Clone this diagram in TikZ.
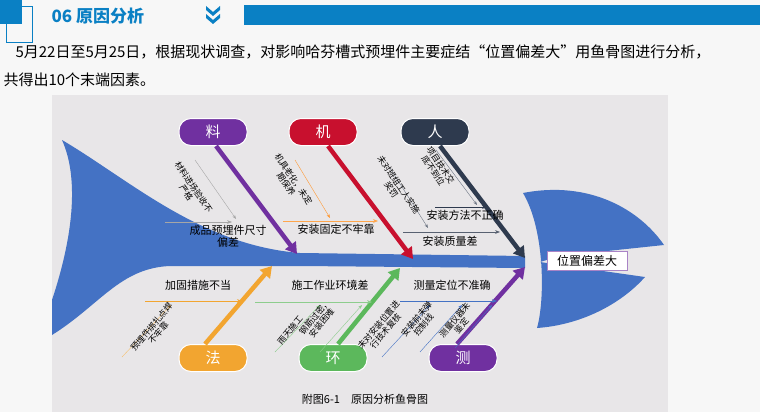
\documentclass[tikz,border=0pt]{standalone}
\usepackage{fontspec}
\setmainfont{Noto Sans CJK SC}
\usetikzlibrary{arrows.meta}
\definecolor{fishblue}{HTML}{4472C4}
\definecolor{panelgray}{HTML}{E8E6E8}
\definecolor{liaopurple}{HTML}{7030A0}
\definecolor{jired}{HTML}{C8102E}
\definecolor{rennavy}{HTML}{2E3A4E}
\definecolor{faorange}{HTML}{F2A530}
\definecolor{huangreen}{HTML}{5CB85C}
\definecolor{cepurple}{HTML}{7030A0}
\definecolor{headblue}{HTML}{0A80C4}
\tikzset{
  cat/.style={rounded corners=12pt,minimum width=68pt,minimum height=27pt,draw=white,line width=1pt,text=white,font=\fontsize{15}{15}\selectfont},
  main/.style={line width=4.5pt,-{Triangle[length=11pt,width=13pt]}},
  sub/.style={line width=0.6pt,-{Stealth[length=5pt]}},
  twig/.style={line width=0.4pt,-{Stealth[length=4pt]}},
  lab/.style={font=\fontsize{11}{12}\selectfont,align=center},
  tiny/.style={font=\fontsize{8.5}{9}\selectfont,align=center}
}
\begin{document}
\begin{tikzpicture}[x=1pt,y=-1pt]
\useasboundingbox (0,0) rectangle (760,412);
\fill[gray!6] (0,0) rectangle (760,412);
% header
\fill[headblue] (0,0) rectangle (22,24);
\draw[headblue,line width=0.8pt] (6,6) rectangle (32,42);
\node[anchor=west,text=headblue,font=\fontsize{17}{17}\selectfont\bfseries] (title) at (48,16) {06 原因分析};
\foreach \dy in {0,8}
  \fill[headblue] (206,6+\dy) -- (213,12+\dy) -- (220,6+\dy) -- (220,10+\dy) -- (213,16+\dy) -- (206,10+\dy) -- cycle;
\fill[headblue] (244,5) rectangle (760,25);
\node[anchor=west,font=\fontsize{15}{15}\selectfont] (par1) at (12,52) {5月22日至5月25日，根据现状调查，对影响哈芬槽式预埋件主要症结“位置偏差大”用鱼骨图进行分析，};
\node[anchor=west,font=\fontsize{15}{15}\selectfont] (par2) at (0,80) {共得出10个末端因素。};
% panel
\fill[panelgray] (52,95) rectangle (668,412);
% fish body
\fill[fishblue] (62,140) .. controls (130,180) and (200,245) .. (300,253) -- (525,256)
  -- (525,268) -- (300,266) -- (170,266) .. controls (120,268) and (100,305) .. (52,335)
  -- (52,300) .. controls (72,240) and (80,180) .. (62,140) -- cycle;
\fill[fishblue] (523,193) .. controls (590,180) and (640,210) .. (664,245)
  -- (560,256) -- (540,262) -- (645,277) .. controls (620,305) and (580,325) .. (537,328)
  .. controls (545,300) and (545,230) .. (523,193) -- cycle;
\node[draw=cepurple!60,fill=white,font=\fontsize{12}{12}\selectfont,minimum width=80pt,minimum height=19pt] (effect) at (587,261) {位置偏差大};
% categories
\node[cat,fill=liaopurple] (liao) at (213,132) {料};
\node[cat,fill=jired] (ji) at (323,132) {机};
\node[cat,fill=rennavy] (ren) at (435,132) {人};
\node[cat,fill=faorange] (fa) at (213,358) {法};
\node[cat,fill=huangreen] (huan) at (333,358) {环};
\node[cat,fill=cepurple] (ce) at (463,358) {测};
\coordinate (liaoE) at (297,254);
\coordinate (jiE) at (413,259);
\coordinate (renE) at (525,258);
\coordinate (faE) at (272,266);
\coordinate (huanE) at (400,268);
\coordinate (ceE) at (525,267);
\draw[main,liaopurple] (liao.south) ++(3,0) -- (liaoE);
\draw[main,jired] (ji.south) ++(5,0) -- (jiE);
\draw[main,rennavy] (ren.south) ++(5,0) -- (renE);
\draw[main,faorange] (fa.north) ++(-8,0) -- (faE);
\draw[main,huangreen] (huan.north) ++(5,0) -- (huanE);
\draw[main,cepurple] (ce.north) ++(-6,0) -- (ceE);
% liao
\draw[sub,gray!70] (165,222) -- (232,222);
\node[lab] (liao1) at (228,236) {成品预埋件尺寸\\偏差};
\draw[twig,gray!70] (195,160) -- (236,219);
\node[tiny,rotate=-56] (liao1a) at (190,190) {材料进场验收不\\严格};
% ji
\draw[sub,orange!70] (283,221) -- (378,221);
\node[lab] (ji1) at (336,229) {安装固定不牢靠};
\draw[twig,orange!80] (295,160) -- (330,218);
\node[tiny,rotate=-56] (ji1a) at (290,182) {机具老化，未定\\期保养};
% ren
\draw[sub,rennavy] (435,207) -- (487,207);
\node[lab] (ren1) at (465,215) {安装方法不正确};
\draw[sub,rennavy!80] (403,232) -- (500,232);
\node[lab] (ren2) at (450,241) {安装质量差};
\draw[twig,rennavy!70] (390,168) -- (428,228);
\node[tiny,rotate=-56] (ren2a) at (395,187) {未对班组工人实施\\奖罚};
\draw[twig,rennavy!70] (436,150) -- (477,205);
\node[tiny,rotate=-56] (ren1a) at (437,168) {项目技术交\\底不到位};
% fa
\draw[sub,faorange] (145,301) -- (242,301);
\node[lab] (fa1) at (198,285) {加固措施不当};
\draw[twig,faorange!70] (122,357) -- (171,305);
\node[tiny,rotate=50] (fa1a) at (155,330) {预埋件绑扎点焊\\不牢靠};
% huan
\draw[sub,huangreen!70] (255,302) -- (372,302);
\node[lab] (huan1) at (330,285) {施工作业环境差};
\draw[twig,huangreen!70] (275,352) -- (320,305);
\node[tiny,rotate=50] (huan1a) at (290,330) {雨天施工};
\draw[twig,huangreen!70] (320,352) -- (362,305);
\node[tiny,rotate=50] (huan1b) at (318,320) {钢筋过密，\\安装困难};
% ce
\draw[sub,fishblue] (400,301) -- (497,301);
\node[lab] (ce1) at (452,285) {测量定位不准确};
\draw[twig,fishblue] (382,357) -- (430,305);
\node[tiny,rotate=50] (ce1a) at (382,328) {未对安装位置进\\行技术复核};
\draw[twig,fishblue] (420,352) -- (462,305);
\node[tiny,rotate=50] (ce1b) at (420,322) {安装前未弹\\控制线};
\draw[twig,fishblue] (455,348) -- (492,305);
\node[tiny,rotate=50] (ce1c) at (458,323) {测量仪器未\\鉴定};
% caption
\node[font=\fontsize{11}{11}\selectfont] (cap) at (365,399) {附图6-1\quad 原因分析鱼骨图};
\end{tikzpicture}
\end{document}
